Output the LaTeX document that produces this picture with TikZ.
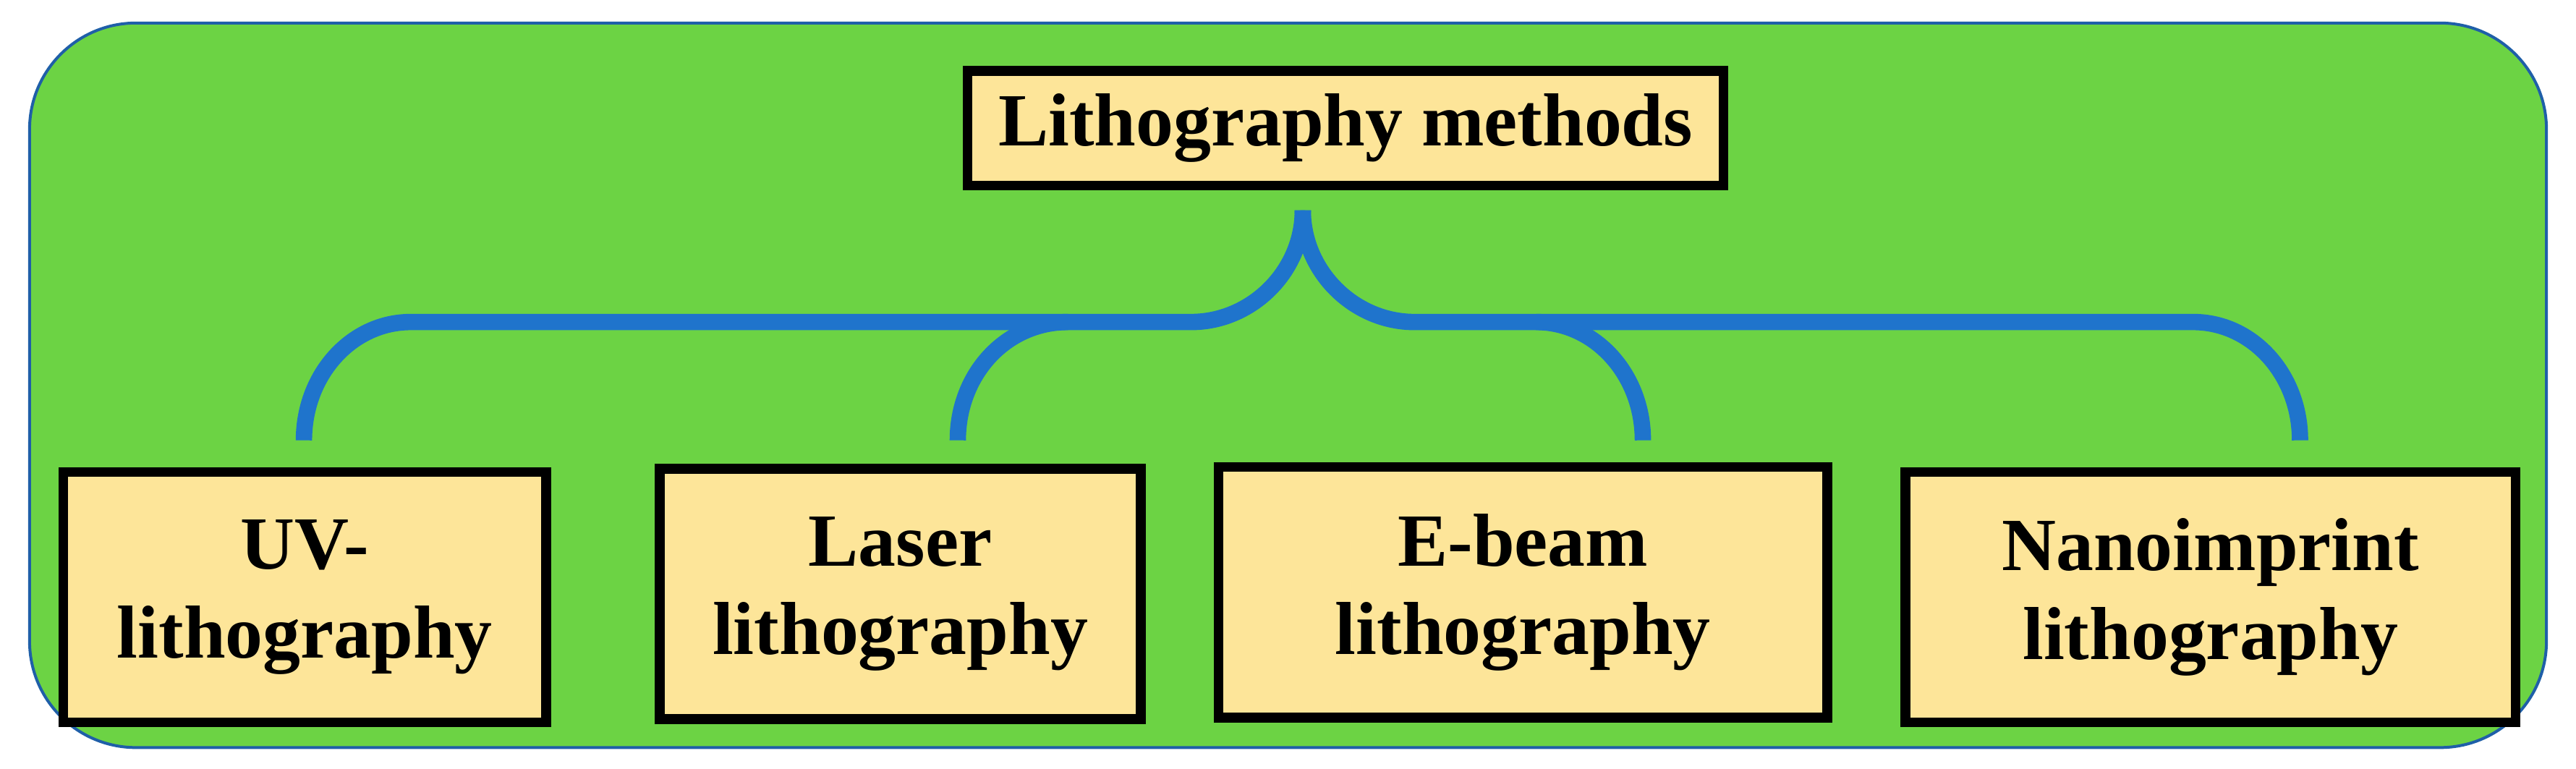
\documentclass[tikz,border=0pt]{standalone}
\usepackage{fontspec}
\setmainfont{Liberation Serif}
\begin{document}
\begin{tikzpicture}[x=0.03cm,y=-0.03cm,
  box/.style={draw=black,line width=6*0.85pt,fill=boxfill,inner sep=0pt,font=\fontsize{39}{46}\selectfont\bfseries,align=center},
  conn/.style={draw=linkblue,line width=10*0.85pt}]
\definecolor{bg}{HTML}{6CD344}
\definecolor{boxfill}{HTML}{FDE599}
\definecolor{linkblue}{HTML}{1F74CC}
\definecolor{outline}{HTML}{1F5FA8}
\useasboundingbox (0,0) rectangle (1568,468);
\draw[fill=bg,draw=outline,line width=1.5pt,rounded corners=65*0.85pt] (18,14) rectangle (1550,455);
\node[box,minimum width=462*0.85pt,minimum height=70*0.85pt] (top) at (819,78) {Lithography methods};
\node[box,minimum width=295*0.85pt,minimum height=153*0.85pt] (uv) at (185.5,363.5) {UV-\\lithography};
\node[box,minimum width=294*0.85pt,minimum height=153*0.85pt] (la) at (548,361.5) {Laser\\lithography};
\node[box,minimum width=372*0.85pt,minimum height=153*0.85pt] (eb) at (927,360.5) {E-beam\\lithography};
\node[box,minimum width=373*0.85pt,minimum height=153*0.85pt] (na) at (1345.5,363.5) {Nanoimprint\\lithography};
\coordinate (j) at (793,128);
\coordinate (cuv) at (185,268);
\coordinate (cla) at (583,268);
\coordinate (ceb) at (1000,268);
\coordinate (cna) at (1400,268);
\draw[conn] (cuv) .. controls (185,228) and (214,196) .. (250,196) -- (725,196)
  .. controls (762,196) and (793,165) .. (j);
\draw[conn] (j) .. controls (793,165) and (824,196) .. (861,196) -- (1335,196)
  .. controls (1371,196) and (1400,228) .. (cna);
\draw[conn] (cla) .. controls (583,228) and (612,196) .. (650,196);
\draw[conn] (ceb) .. controls (1000,228) and (971,196) .. (935,196);
\end{tikzpicture}
\end{document}
